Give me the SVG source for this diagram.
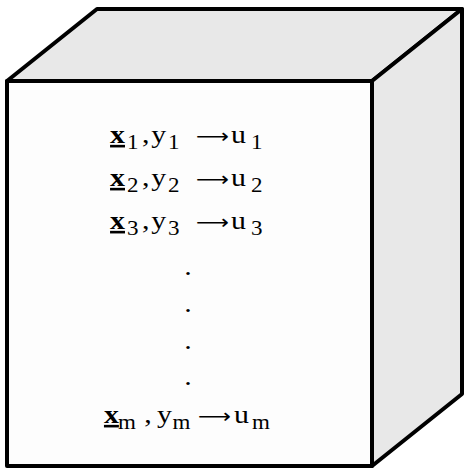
<svg xmlns="http://www.w3.org/2000/svg" width="474" height="476" viewBox="0 0 474 476">
<style>
.face{stroke:#000;stroke-width:4;stroke-linejoin:round}
.side{fill:#e8e8e8}
.front{fill:#fdfdfd}
.t{font-family:"Liberation Serif","Times New Roman",serif;font-size:26px;fill:#000}
.s{font-size:20px}
.v{font-weight:bold;text-decoration:underline}
.a{font-family:"DejaVu Sans",sans-serif;font-size:20px}
</style>
<rect width="474" height="476" fill="#fff"/>
<g id="cube">
<polygon class="face side" points="7,81 97,9 462,9 372,81"/>
<polygon class="face side" points="372,81 462,9 462,394 372,466"/>
<polygon class="face front" points="7,81 372,81 372,466 7,466"/>
</g>
<g id="rows" transform="scale(1.15,1)">
<text class="t" y="143"><tspan class="v" x="95.7">x</tspan><tspan class="s" x="110.4" dy="6">1</tspan><tspan x="123.5" dy="-6">,</tspan><tspan x="131.5">y</tspan><tspan class="s" x="146" dy="6">1</tspan><tspan class="a" x="170.4" dy="-6">⟶</tspan><tspan x="200.9">u</tspan><tspan class="s" x="218.3" dy="6">1</tspan></text>
<text class="t" y="186"><tspan class="v" x="95.7">x</tspan><tspan class="s" x="110.4" dy="6">2</tspan><tspan x="123.5" dy="-6">,</tspan><tspan x="131.5">y</tspan><tspan class="s" x="146" dy="6">2</tspan><tspan class="a" x="170.4" dy="-6">⟶</tspan><tspan x="200.9">u</tspan><tspan class="s" x="218.3" dy="6">2</tspan></text>
<text class="t" y="229"><tspan class="v" x="95.7">x</tspan><tspan class="s" x="110.4" dy="6">3</tspan><tspan x="123.5" dy="-6">,</tspan><tspan x="131.5">y</tspan><tspan class="s" x="146" dy="6">3</tspan><tspan class="a" x="170.4" dy="-6">⟶</tspan><tspan x="200.9">u</tspan><tspan class="s" x="218.3" dy="6">3</tspan></text>
<text class="t" x="160.3" y="275">.</text>
<text class="t" x="160.3" y="312">.</text>
<text class="t" x="160.3" y="349">.</text>
<text class="t" x="160.3" y="385">.</text>
<text class="t" y="423"><tspan class="v" x="90.4">x</tspan><tspan class="s" x="102.6" dy="6">m</tspan><tspan x="125.5" dy="-6">,</tspan><tspan x="136.5">y</tspan><tspan class="s" x="150" dy="6">m</tspan><tspan class="a" x="172.2" dy="-6">⟶</tspan><tspan x="203.5">u</tspan><tspan class="s" x="219.1" dy="6">m</tspan></text>
</g>
</svg>
